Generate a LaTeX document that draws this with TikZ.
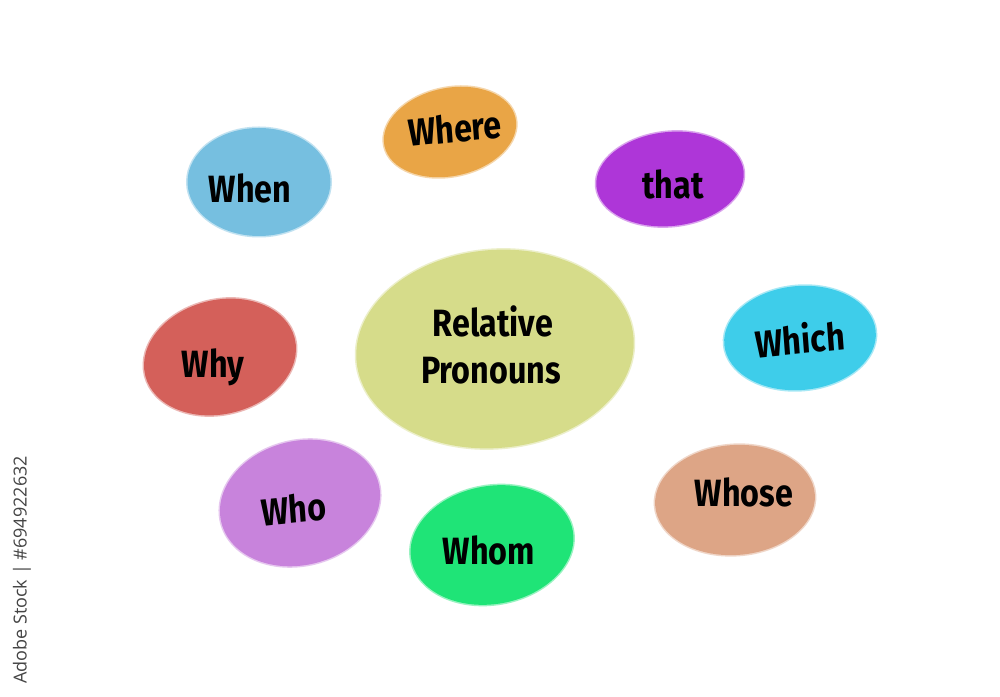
\documentclass[tikz,border=0pt]{standalone}
\usepackage{fontspec}
\setmainfont{Fira Sans}
\newfontfamily\stockfont{Open Sans}
\usetikzlibrary{shapes.geometric}
\definecolor{cWhen}{HTML}{76BFE0}
\definecolor{cWhere}{HTML}{E9A546}
\definecolor{cThat}{HTML}{AE36D8}
\definecolor{cWhich}{HTML}{3ECDEA}
\definecolor{cWhose}{HTML}{DDA586}
\definecolor{cWhom}{HTML}{1FE477}
\definecolor{cWho}{HTML}{C883DC}
\definecolor{cWhy}{HTML}{D4605A}
\definecolor{cCenter}{HTML}{D6DC8A}
\definecolor{cStock}{HTML}{444444}
\tikzset{
  blob/.style={ellipse, inner sep=0pt, draw=#1, draw opacity=0.45, line width=3pt, fill=#1},
  word/.style={font=\fontsize{38}{44}\selectfont\bfseries, text=black, inner sep=0pt, xscale=0.85, transform shape},
}
\begin{document}
\begin{tikzpicture}[x=1pt,y=1pt]
\useasboundingbox (0,0) rectangle (1000,696);
\fill[white] (0,0) rectangle (1000,696);
% blobs
\node[blob=cWhen, minimum width=143pt, minimum height=108pt] (bWhen) at (259,514) {};
\node[blob=cWhere, minimum width=134pt, minimum height=88pt, rotate=12] (bWhere) at (450,564) {};
\node[blob=cThat, minimum width=148pt, minimum height=94pt, rotate=6] (bThat) at (670,517) {};
\node[blob=cWhich, minimum width=152pt, minimum height=104pt, rotate=5] (bWhich) at (800,358) {};
\node[blob=cWhose, minimum width=160pt, minimum height=110pt, rotate=4] (bWhose) at (735,196) {};
\node[blob=cWhom, minimum width=164pt, minimum height=118pt, rotate=10] (bWhom) at (492,151) {};
\node[blob=cWho, minimum width=162pt, minimum height=124pt, rotate=14] (bWho) at (300,193) {};
\node[blob=cWhy, minimum width=154pt, minimum height=114pt, rotate=14] (bWhy) at (220,339) {};
\node[blob=cCenter, minimum width=278pt, minimum height=198pt, rotate=5] (bCenter) at (495,347) {};
% words
\node[word] (tWhen) at (250,508) {When};
\node[word, rotate=5] (tWhere) at (455,568) {Where};
\node[word] (tThat) at (673,512) {that};
\node[word, rotate=5] (tWhich) at (800,357) {Which};
\node[word] (tWhose) at (744,204) {Whose};
\node[word] (tWhom) at (489,146) {Whom};
\node[word, rotate=5] (tWho) at (294,187) {Who};
\node[word] (tWhy) at (213,329) {Why};
\node[word] (tRel) at (493,375) {Relative};
\node[word] (tPro) at (491,325) {Pronouns};
% stock label
\node[rotate=90, font=\stockfont\fontsize{18}{21}\selectfont, text=cStock, inner sep=0pt] (stock) at (22,126) {Adobe Stock | \#694922632};
\end{tikzpicture}
\end{document}
